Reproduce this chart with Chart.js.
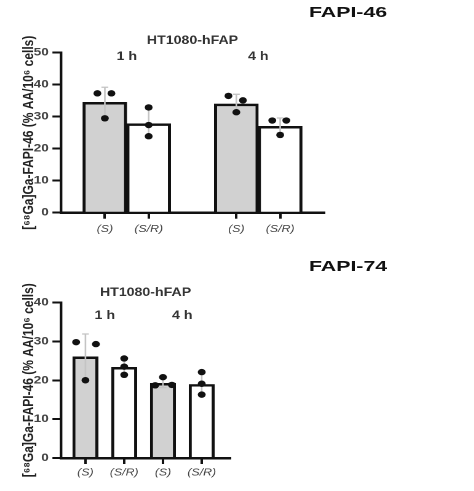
<!DOCTYPE html>
<html><head><meta charset="utf-8">
<script src="https://cdn.jsdelivr.net/npm/chart.js@4.4.1/dist/chart.umd.min.js"></script>
<style>
html,body{margin:0;padding:0;background:#fff;width:474px;height:491px;overflow:hidden;}
#stage{position:absolute;left:0;top:0;width:385.4px;height:491px;transform:scaleX(1.23);transform-origin:0 0;}
.box{position:absolute;left:0;width:385.4px;}
.head{position:absolute;left:232.5px;width:100px;text-align:center;font:bold 15.5px/15.5px 'Liberation Sans',Arial,sans-serif;color:#111;transform:scaleX(1.12);}
</style></head><body>
<div id="stage">
  <div class="head" style="top:3.9px">FAPI-46</div>
  <div class="box" style="top:0;height:250px"><canvas id="c46"></canvas></div>
  <div class="head" style="top:257.9px">FAPI-74</div>
  <div class="box" style="top:250px;height:241px"><canvas id="c74"></canvas></div>
</div>
<script>
// ---------- data ----------
const categories = ['(S)', '(S/R)', '(S)', '(S/R)'];
const timepoints = ['1 h', '1 h', '4 h', '4 h'];
const cellLine = 'HT1080-hFAP';
const yAxisTitle = '[⁶⁸Ga]Ga-FAPI-46 (% AA/10⁶ cells)';
const yTicks46 = [0, 10, 20, 30, 40, 50];
const yTicks74 = [0, 10, 20, 30, 40];
const mean46 = [34.5, 27.8, 34.0, 27.0];
const sd46 = [4.7, 4.5, 3.0, 2.6];
const reps46 = [[37.3, 37.3, 29.5], [32.9, 27.4, 23.9], [36.5, 35.1, 31.4], [28.8, 28.8, 24.3]];
const mean74 = [26.1, 23.4, 19.3, 19.0];
const sd74 = [5.8, 2.1, 1.2, 2.9];
const reps74 = [[29.8, 29.3, 20.0], [25.6, 23.5, 21.4], [18.7, 20.8, 18.8], [22.1, 19.1, 16.3]];

// ---------- layout / style ----------
const FONT = "'Liberation Sans', Arial, sans-serif";
const layouts = {
  c46: {gap: 1, xMin: 0, xMax: 6, barPct: 1.0, padTop: 34.1, titleGap: 4.8, padRight: 122, xAxisH: 37.3, tickLen: 6, tickPad: 4.5, groupDy: 4.3,
        jitter: [[-0.17, 0.15, 0], [0, 0, 0], [-0.18, 0.15, 0], [-0.18, 0.14, 0]]},
  c74: {gap: 0, xMin: 0.37, xMax: 4.73, barPct: 0.67, padTop: 35.9, titleGap: 2.8, padRight: 198.4, xAxisH: 33, tickLen: 6, tickPad: 2.7, groupDy: 13.3,
        jitter: [[-0.24, 0.27, 0], [0, 0, 0], [-0.2, 0, 0.23], [0, 0, 0]]}
};

function slotPositions(gap) {
  const groups = [...new Set(timepoints)];
  return timepoints.map((t, i) => i + 1 + groups.indexOf(t) * gap);
}

const errorBarPlugin = {
  id: 'errorBars',
  afterDatasetDraw(chart, args, opts) {
    if (args.meta.type !== 'bar') return;
    const ctx = chart.ctx, y = chart.scales.y;
    const ds = chart.data.datasets[args.index];
    ctx.save();
    ctx.strokeStyle = opts.color; ctx.lineWidth = opts.width;
    args.meta.data.forEach((el, i) => {
      const m = ds.data[i].y, s = opts.sd[i];
      const yt = y.getPixelForValue(m + s), yb = y.getPixelForValue(m - s);
      ctx.beginPath();
      ctx.moveTo(el.x, yb); ctx.lineTo(el.x, yt);
      ctx.moveTo(el.x - opts.cap, yt); ctx.lineTo(el.x + opts.cap, yt);
      ctx.moveTo(el.x - opts.cap, yb); ctx.lineTo(el.x + opts.cap, yb);
      ctx.stroke();
    });
    ctx.restore();
  }
};

const groupLabelPlugin = {
  id: 'groupLabels',
  afterDraw(chart, args, opts) {
    const meta = chart.getSortedVisibleDatasetMetas().find(m => m.type === 'bar');
    if (!meta) return;
    const ctx = chart.ctx;
    ctx.save();
    ctx.font = 'bold 11.5px ' + FONT;
    ctx.fillStyle = '#333';
    ctx.textAlign = 'center'; ctx.textBaseline = 'middle';
    [...new Set(timepoints)].forEach(g => {
      const xs = meta.data.filter((el, i) => timepoints[i] === g).map(el => el.x);
      const cx = xs.reduce((a, b) => a + b, 0) / xs.length;
      ctx.fillText(g, cx, chart.chartArea.top + opts.dy);
    });
    ctx.restore();
  }
};

function makeChart(id, means, sds, reps, yTicks) {
  const L = layouts[id];
  const pos = slotPositions(L.gap);
  const barData = means.map((v, i) => ({x: pos[i], y: v}));
  const dotData = [];
  reps.forEach((arr, i) => arr.forEach((v, j) => dotData.push({x: pos[i] + L.jitter[i][j], y: v})));
  return new Chart(document.getElementById(id), {
    type: 'bar',
    data: {
      datasets: [
        {type: 'scatter', data: dotData, order: 1, pointRadius: 3.2, backgroundColor: '#111', borderColor: '#111', borderWidth: 0},
        {type: 'bar', data: barData, order: 2,
         backgroundColor: categories.map(c => c === '(S)' ? '#d1d1d1' : '#ffffff'),
         borderColor: '#111', borderWidth: 2.5, barPercentage: L.barPct, categoryPercentage: 1}
      ]
    },
    plugins: [errorBarPlugin, groupLabelPlugin],
    options: {
      responsive: true, maintainAspectRatio: false, animation: false, devicePixelRatio: 2,
      events: [],
      layout: {padding: {left: 0, top: L.padTop, right: L.padRight, bottom: 0}},
      plugins: {
        legend: {display: false}, tooltip: {enabled: false},
        title: {display: true, text: cellLine, fullSize: false, color: '#333',
                font: {family: FONT, size: 11.5, weight: 'bold', lineHeight: 1.2},
                padding: {top: 0, bottom: L.titleGap}},
        errorBars: {sd: sds, color: '#c4c4c4', width: 1.3, cap: 2.8},
        groupLabels: {dy: L.groupDy}
      },
      scales: {
        x: {
          type: 'linear', min: L.xMin, max: L.xMax, bounds: 'data', offset: false,
          afterBuildTicks: s => { s.ticks = pos.map(v => ({value: v})); },
          afterFit: s => { s.height = L.xAxisH; },
          ticks: {callback: (v, i) => categories[i], font: {family: FONT, size: 10, style: 'italic'},
                  color: '#444', padding: L.tickPad, maxRotation: 0, autoSkip: false},
          grid: {offset: false, drawOnChartArea: false, drawTicks: true, tickLength: L.tickLen, color: '#111', lineWidth: 2},
          border: {display: true, color: '#111', width: 2.5}
        },
        y: {
          type: 'linear', min: 0, max: yTicks[yTicks.length - 1],
          afterBuildTicks: s => { s.ticks = yTicks.map(v => ({value: v})); },
          afterFit: s => { s.width = 49.6; },
          ticks: {font: {family: FONT, size: 11, weight: 'bold'}, color: '#444', padding: 3},
          grid: {drawOnChartArea: false, drawTicks: true, tickLength: 7, color: '#111', lineWidth: 2},
          border: {display: true, color: '#111', width: 2.2},
          title: {display: true, text: yAxisTitle, color: '#222',
                  font: {family: FONT, size: 12, weight: 'bold', lineHeight: 1.2},
                  padding: {top: 16.4, bottom: 0}}
        }
      }
    }
  });
}

makeChart('c46', mean46, sd46, reps46, yTicks46);
makeChart('c74', mean74, sd74, reps74, yTicks74);
</script>
</body></html>
